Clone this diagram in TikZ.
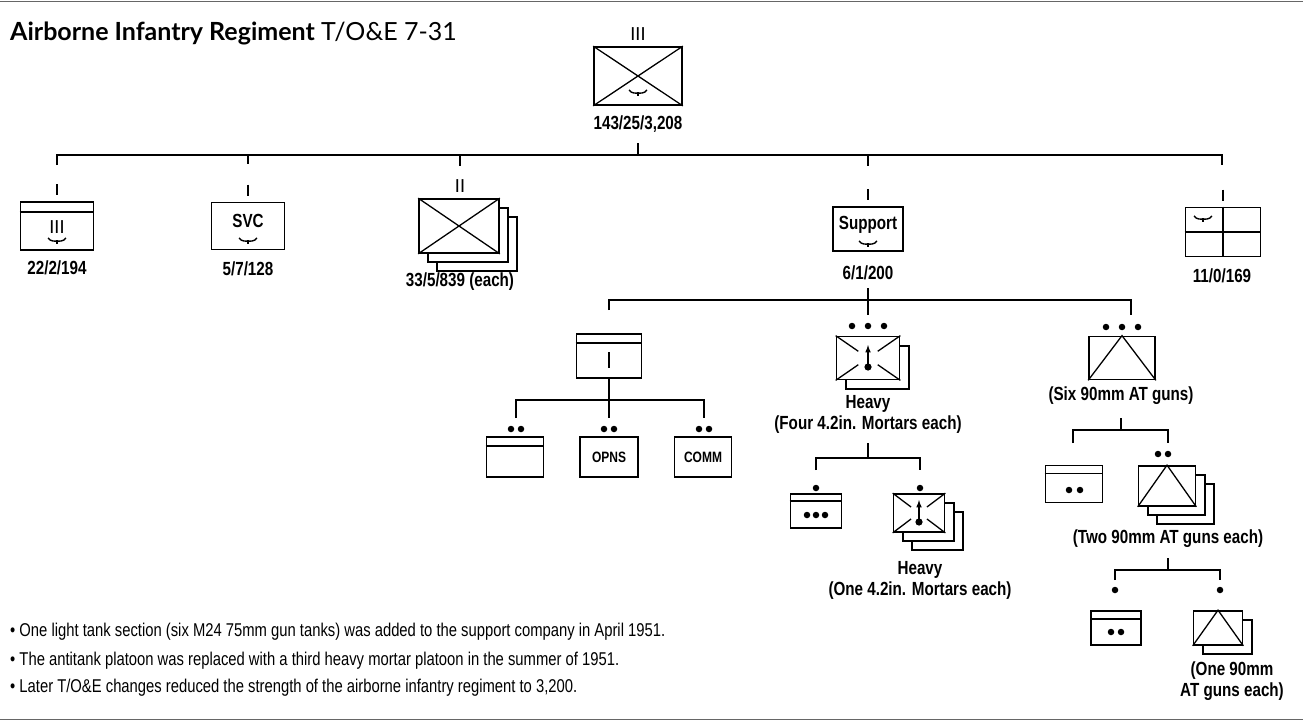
\documentclass[tikz,border=0pt]{standalone}
\usepackage{fontspec}
\setmainfont{Liberation Sans}[FakeStretch=0.8]
\newfontfamily\titlefont{Lato}
\usetikzlibrary{calc}
\begin{document}
\begin{tikzpicture}[x=1pt,y=-1pt,
  ln/.style={line width=1.4pt},
  bx/.style={draw,line width=1.7pt,fill=white,inner sep=0pt},
  lbl/.style={font=\bfseries\fontsize{19}{21}\selectfont,inner sep=0pt},
  ech/.style={font=\titlefont\fontsize{18}{18}\selectfont,inner sep=0pt},
  dot/.style={circle,fill=black,inner sep=0pt,minimum size=6.5pt}]
\useasboundingbox[fill=white] (0,0) rectangle (1303,720);
\draw[line width=1pt,black!60] (0,1) -- (1303,1) (0,719)--(1303,719);
\newcommand\gull[1]{\draw[line width=1.4pt] ($(#1)+(-9,-2)$) .. controls ($(#1)+(-6,2)$) and ($(#1)+(-2,1)$) .. ($(#1)+(0,1)$) .. controls ($(#1)+(2,1)$) and ($(#1)+(6,2)$) .. ($(#1)+(9,-2)$); \draw[line width=1.4pt] ($(#1)+(0,0)$)--($(#1)+(0,4)$);}
\newcommand\ubox[5]{\node[bx,minimum width=#3,minimum height=#4] (#1) at (#2) {#5};}
\newcommand\band[2]{\draw[line width=1.4pt] ($(#1.north west)+(0,#2)$) -- ($(#1.north east)+(0,#2)$);}
\newcommand\cross[1]{\draw[line width=1.3pt] (#1.north west)--(#1.south east) (#1.north east)--(#1.south west);}
\newcommand\tri[1]{\draw[line width=1.3pt] (#1.south west)--(#1.north)--(#1.south east);}
\newcommand\mortar[1]{\draw[line width=1.3pt] (#1.north west)--($(#1.north west)!0.35!(#1.south east)$) (#1.south east)--($(#1.south east)!0.35!(#1.north west)$) (#1.north east)--($(#1.north east)!0.35!(#1.south west)$) (#1.south west)--($(#1.south west)!0.35!(#1.north east)$);
 \draw[line width=1.5pt,-latex] ($(#1.center)+(0,10)$)--($(#1.center)+(0,-13)$); \fill ($(#1.center)+(0,9)$) circle (3.6pt);}
\newcommand\eche[1]{\draw[line width=1.5pt] ($(#1.north)+(0,-17)$)--($(#1.north)+(0,-6)$);}

% title
\node[anchor=base west,inner sep=0pt,font=\titlefont\fontsize{25}{27}\selectfont] (title) at (10,40) {\textbf{Airborne Infantry Regiment} T/O\&E 7-31};

% regiment
\ubox{reg}{638,76}{88}{58}{}
\cross{reg}\gull{638,92}
\node[ech] (regech) at (638,34) {III};
\node[lbl] (regl) at (638,124) {143/25/3,208};
\coordinate (rbar) at (638,155);
\draw[ln] (638,143) -- (rbar);
\draw[ln] (57,165)--(57,155)--(1222,155)--(1222,165);
\draw[ln] (248,155)--(248,164) (460,155)--(460,166) (868,155)--(868,166);

% HQ company
\ubox{hq}{57,226}{73}{48}{}
\band{hq}{11}\eche{hq}
\node[ech] (hqt) at (57,227) {III}; \gull{57,240}
\node[lbl] (hql) at (57,268) {22/2/194};
% SVC
\ubox{svc}{248,226}{73}{47}{}
\eche{svc}
\node[lbl] (svct) at (248,221) {SVC}; \gull{248,240}
\node[lbl] (svcl) at (248,269) {5/7/128};
% battalions
\foreach \d in {18,9}{\draw[bx] (419+\d,199+\d) rectangle (499+\d,253+\d);}
\ubox{bn}{459,226}{80}{54}{}
\cross{bn}
\node[ech] (bnech) at (460,186) {II};
\node[lbl] (bnl) at (460,282) {33/5/839 (each)};
% Support
\ubox{sup}{868,229}{70}{44}{}
\eche{sup}
\node[lbl] (supt) at (868,225) {Support}; \gull{868,243}
\node[lbl] (supl) at (868,273) {6/1/200};
% 11/0/169
\ubox{c11}{1223,232}{75}{49}{}
\eche{c11}
\draw[line width=1.5pt] (c11.north)--(c11.south) (c11.west)--(c11.east);
\gull{1203,218}
\node[lbl] (c11l) at (1222,276) {11/0/169};

% support subtree
\draw[ln] (868,288)--(868,300);
\draw[ln] (609,310)--(609,300)--(1131,300)--(1131,315) (868,300)--(868,315);
% HQ platoon
\ubox{hqp}{609,356}{65}{44}{}
\band{hqp}{10}
\draw[line width=2.2pt] (609,352)--(609,368);
\draw[ln] (hqp.south)--(609,418);
\draw[ln] (516,418)--(516,400)--(704,400)--(704,418);
\foreach \x in {516,609,704}{\node[dot] at (\x-5,429){};\node[dot] at (\x+5,429){};}
\ubox{s1}{515,457}{57}{40}{}\band{s1}{10}
\ubox{opns}{609,457}{58}{40}{\bfseries\fontsize{15}{15}\selectfont OPNS}
\ubox{comm}{703,457}{57}{40}{\bfseries\fontsize{15}{15}\selectfont COMM}

% heavy mortar platoon
\draw[bx] (846,346) rectangle (909,389);
\ubox{hm}{868,358}{63}{43}{}
\mortar{hm}
\foreach \dx in {-16,0,16}{\node[dot] at (868+\dx,326){};}
\node[lbl] (hml1) at (868,404) {Heavy};
\node[lbl] (hml2) at (868,425) {(Four 4.2in. Mortars each)};
\draw[ln] (868,443)--(868,458);
\draw[ln] (816,470)--(816,458)--(920,458)--(920,470);
\node[dot] at (816,488){};
\ubox{hms}{816,511}{51}{34}{}\band{hms}{8}
\foreach \dx in {-9,0,9}{\node[dot] at (816+\dx,515){};}
\node[dot] at (920,488){};
\foreach \d in {18,9}{\draw[bx] (894+\d,494+\d) rectangle (945+\d,532+\d);}
\ubox{hmq}{919,513}{51}{38}{}
\mortar{hmq}
\node[lbl] (hmql1) at (920,570) {Heavy};
\node[lbl] (hmql2) at (920,591) {(One 4.2in. Mortars each)};

% AT platoon
\ubox{at}{1122,358}{66}{43}{}
\tri{at}
\foreach \dx in {-16,0,16}{\node[dot] at (1122+\dx,327){};}
\node[lbl] (atl) at (1121,396) {(Six 90mm AT guns)};
\draw[ln] (1121,418)--(1121,430);
\draw[ln] (1073,443)--(1073,430)--(1168,430)--(1168,443);
\ubox{ats}{1074,484}{57}{37}{}\band{ats}{9}
\node[dot] at (1069,490){};\node[dot] at (1080,490){};
\node[dot] at (1158,454){};\node[dot] at (1168,454){};
\foreach \d in {18,9}{\draw[bx] (1139+\d,466+\d) rectangle (1196+\d,506+\d);}
\ubox{atq}{1167,486}{57}{40}{}
\tri{atq}
\node[lbl] (atql) at (1168,539) {(Two 90mm AT guns each)};
\draw[ln] (1168,558)--(1168,570);
\draw[ln] (1115,580)--(1115,570)--(1220,570)--(1220,580);
\node[dot] at (1115,590){};
\ubox{ass}{1116,628}{50}{34}{}\band{ass}{9}
\node[dot] at (1111,632){};\node[dot] at (1121,632){};
\node[dot] at (1220,590){};
\draw[bx] (1203,620) rectangle (1252,654);
\ubox{asq}{1218,628}{49}{34}{}
\tri{asq}
\node[lbl,align=center] (asql) at (1232,681) {(One 90mm\\AT guns each)};

% notes
\begin{scope}[every node/.style={anchor=west,inner sep=0pt,font=\fontsize{18.5}{19}\selectfont}]
\node (n1) at (10,632) {\textbullet\ One light tank section (six M24 75mm gun tanks) was added to the support company in April 1951.};
\node (n2) at (10,661) {\textbullet\ The antitank platoon was replaced with a third heavy mortar platoon in the summer of 1951.};
\node (n3) at (10,688) {\textbullet\ Later T/O\&E changes reduced the strength of the airborne infantry regiment to 3,200.};
\end{scope}
\end{tikzpicture}
\end{document}
